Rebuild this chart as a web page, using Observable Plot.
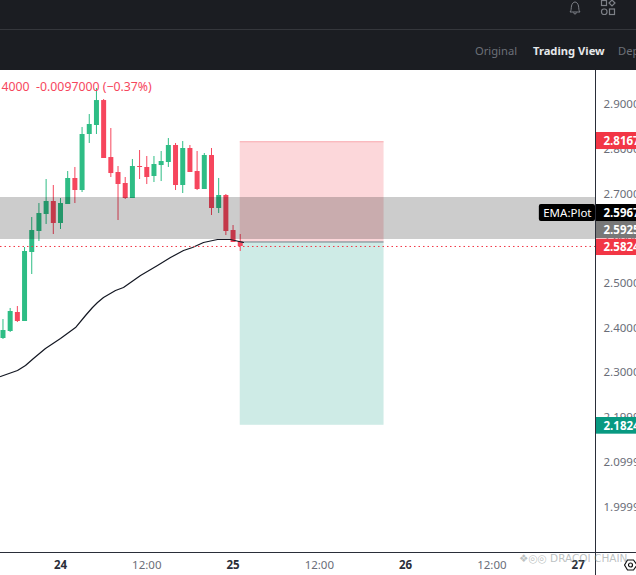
<!DOCTYPE html>
<html><head><meta charset="utf-8">
<script src="https://cdn.jsdelivr.net/npm/d3@7"></script>
<script src="https://cdn.jsdelivr.net/npm/@observablehq/plot@0.6"></script>
<style>
html,body{margin:0;padding:0;background:#fff;overflow:hidden;width:636px;height:575px;font-family:"Noto Sans",sans-serif}
#head{position:relative;height:70px;background:#1b1d22;overflow:hidden}
#head .sep{position:absolute;left:0;right:0;top:29px;height:1px;background:#35373c}
#head span{position:absolute;top:43px;font-size:11.2px;line-height:16px;white-space:nowrap}
#head svg{position:absolute}
#wrap{position:relative;height:505px}
#wrap svg{display:block}
#mark{position:absolute;left:519px;top:482px;font:10.5px "DejaVu Sans",sans-serif;letter-spacing:0;color:rgba(120,130,130,.5);white-space:nowrap}
#hex{position:absolute;left:624px;top:488px}
</style></head><body>
<div id="head"><div class="sep"></div>
<span style="left:475px;color:#6c7078">Original</span>
<span style="left:533px;color:#e6e8ea;font-weight:700">Trading View</span>
<span style="left:618px;color:#6c7078">Depth</span>
<svg style="left:568px;top:0" width="14" height="16" viewBox="0 0 14 16" fill="none" stroke="#7d8087" stroke-width="1"><path d="M2 12c1.5-1.5 1-3.5 1.5-6C4 3.500 5.500 2 7 2s3 1.500 3.500 4c.5 2.500 0 4.500 1.500 6z"/><path d="M5.500 12.500c0 2 3 2 3 0"/></svg>
<svg style="left:600px;top:0" width="18" height="16" viewBox="0 0 18 16" fill="none" stroke="#7d8087" stroke-width="1.2"><rect x="1.500" y=".5" width="5" height="5"/><path d="M12 0l3 3-3 3-3-3z"/><rect x="1.500" y="9" width="5.500" height="5.500" rx="2.500"/><rect x="9.500" y="9" width="5" height="5.500"/></svg>
</div>
<div id="wrap"><div id="chart"></div>
<div id="mark">❖◎◎ DRACOI CHAIN</div>
<svg id="hex" width="14" height="14" viewBox="0 0 14 14" fill="none" stroke="#111" stroke-width="1.200"><path d="M3.500 2h6l3.500 5-3.500 5h-6L0.500 7z"/><circle cx="6.500" cy="7" r="2"/></svg>
</div>
<script>
const hours  = [-8,-7,-6,-5,-4,-3,-2,-1,0,1,2,3,4,5,6,7,8,9,10,11,12,13,14,15,16,17,18,19,20,21,22,23,24,25];
const opens  = [2.3765,2.3922,2.4347,2.4146,2.5689,2.6159,2.6539,2.6830,2.6338,2.6763,2.7345,2.7076,2.8329,2.8530,2.9089,2.7814,2.7479,2.7233,2.6897,2.7613,2.7591,2.7389,2.7635,2.7703,2.8083,2.7188,2.8016,2.7501,2.7099,2.7859,2.6674,2.6964,2.6181,2.5935];
const closes = [2.3944,2.4369,2.4146,2.5712,2.6181,2.6562,2.6830,2.6338,2.6785,2.7345,2.7076,2.8329,2.8553,2.9089,2.7792,2.7456,2.7210,2.6897,2.7613,2.7591,2.7367,2.7658,2.7725,2.8083,2.7188,2.8016,2.7479,2.7099,2.7859,2.6674,2.6964,2.6159,2.5913,2.5824];
const highs  = [2.4190,2.4437,2.4481,2.5801,2.6472,2.6785,2.7322,2.7188,2.6897,2.7501,2.7591,2.8486,2.8776,2.9358,2.9112,2.8463,2.7613,2.7367,2.7770,2.7971,2.7837,2.7837,2.7949,2.8239,2.8128,2.8172,2.8083,2.7949,2.7904,2.8016,2.7345,2.6987,2.6293,2.6092];
const lows   = [2.3743,2.3900,2.4123,2.4146,2.5197,2.5935,2.6316,2.6092,2.6204,2.6763,2.6785,2.7031,2.8128,2.8329,2.7792,2.7367,2.6405,2.6875,2.6897,2.7322,2.7210,2.7255,2.7277,2.7591,2.7076,2.7009,2.7479,2.7076,2.7099,2.6517,2.6562,2.6069,2.5913,2.5712];

const emaHours  = [-8.34,-5.98,-4.87,-3.76,-2.09,0,2.09,3.48,4.45,5.15,5.98,7.65,8.76,11.13,13.49,15.3,17.11,18.36,19.89,21.84,23.64,25.45];
const emaPrices = [2.2915,2.3049,2.3161,2.3318,2.3542,2.3765,2.4011,2.4280,2.4459,2.4571,2.4683,2.4839,2.4906,2.5175,2.5398,2.5577,2.5734,2.5801,2.5913,2.5980,2.5980,2.5913];

const bandTop = 2.6920, bandBottom = 2.5980;
const stopPrice = 2.8167, entryPrice = 2.5925, targetPrice = 2.1824, lastPrice = 2.5824;
const boxStart = 25, boxEnd = 45;

const yTickValues = [2.9,2.8,2.7,2.6,2.5,2.4,2.3,2.2,2.1,2.0];
const yTickLabels = ["2.9000","2.8000","2.7000","2.6000","2.5000","2.4000","2.3000","2.1999","2.0999","1.9999"];
const xTickValues = [0,12,24,36,48,60,72];
const xTickLabels = ["24","12:00","25","12:00","26","12:00","27"];
const xTickBold   = [true,false,true,false,true,false,true];

const tagLabels = ["2.8167","2.5967","2.5925","2.5824","2.1824"];
const tagTops   = [2.8374,2.6763,2.6383,2.5987,2.1998];
const tagBottoms= [2.7993,2.6383,2.6002,2.5622,2.1625];
const tagColors = ["#f23645","#000000","#787878","#f23645","#089981"];

const legendText = "4000  -0.0097000 (\u22120.37%)";
const green = "#2ebd85", red = "#f6465d";

const candles = hours.map((h,i)=>({h,o:opens[i],c:closes[i],hi:highs[i],lo:lows[i],col:closes[i]>=opens[i]?green:red}));
const ema = emaHours.map((h,i)=>({h,p:emaPrices[i]}));
const tags = tagLabels.map((t,i)=>({t,top:tagTops[i],bot:tagBottoms[i],col:tagColors[i]}));
const yTicks = yTickValues.map((v,i)=>({v,t:yTickLabels[i]}));
const xTicks = xTickValues.map((v,i)=>({v,t:xTickLabels[i],b:xTickBold[i]}));

const xMin=-8.345, xMax=74.41, xEdge=80.11, yMax=2.9761, yMin=1.8978, yEdge=1.8463;
const font='"Noto Sans",sans-serif';

const plot = Plot.plot({
  width:636,height:505,marginLeft:0,marginRight:41,marginTop:0,marginBottom:23,
  style:{background:"#fff",fontFamily:font,overflow:"hidden"},
  x:{domain:[xMin,xMax],axis:null},
  y:{domain:[yMin,yMax],axis:null},
  marks:[
    Plot.rect([0],{x1:boxStart,x2:boxEnd,y1:entryPrice,y2:stopPrice,fill:"#f23645",fillOpacity:.2}),
    Plot.rect([0],{x1:boxStart,x2:boxEnd,y1:targetPrice,y2:entryPrice,fill:"#089981",fillOpacity:.2}),
    Plot.ruleY([stopPrice],{x1:boxStart,x2:boxEnd,stroke:"#f23645",strokeOpacity:.3}),
    Plot.ruleX(candles,{x:"h",y1:"lo",y2:"hi",stroke:"col",strokeWidth:1}),
    Plot.ruleX(candles,{x:"h",y1:"o",y2:"c",stroke:"col",strokeWidth:5}),
    Plot.rect([0],{x1:xMin,x2:xMax,y1:bandBottom,y2:bandTop,fill:"#000",fillOpacity:.2}),
    Plot.ruleY([entryPrice],{x1:boxStart,x2:boxEnd,stroke:"#787b86",strokeWidth:1}),
    Plot.line(ema,{x:"h",y:"p",stroke:"#131722",strokeWidth:1.2,curve:"linear"}),
    Plot.ruleY([lastPrice],{x1:xMin,x2:xMax,stroke:"#f23645",strokeWidth:1,strokeDasharray:"1.500 3"}),
    Plot.text([legendText],{frameAnchor:"top-left",dx:1,dy:17,text:d=>d,fill:red,fontSize:12.3,lineAnchor:"middle",textAnchor:"start"}),
    Plot.text(yTicks,{x:xMax,y:"v",text:"t",dx:8,textAnchor:"start",fill:"#6a6d78",fontSize:11.500}),
    Plot.rect(tags,{x1:xMax,x2:xEdge,y1:"bot",y2:"top",fill:"col"}),
    Plot.text(tags,{x:xMax,y:d=>(d.top+d.bot)/2,text:"t",dx:8,textAnchor:"start",fill:"#fff",fontSize:11.500,fontWeight:700}),
    Plot.rect([0],{x1:66.6,x2:xMax,y1:2.6763,y2:2.6383,fill:"#000",rx:2}),
    Plot.text(["EMA:Plot"],{x:xMax,y:2.6573,text:d=>d,dx:-4,textAnchor:"end",fill:"#fff",fontSize:11.500}),
    Plot.ruleX([xMax],{y1:yEdge,y2:yMax,stroke:"#2a2e39",strokeWidth:1}),
    Plot.ruleY([yMin],{x1:xMin,x2:xEdge,stroke:"#2a2e39",strokeWidth:1}),
    Plot.text(xTicks.filter(d=>d.b),{x:"v",frameAnchor:"bottom",dy:13,lineAnchor:"middle",text:"t",fill:"#2a2e39",fontSize:11.500,fontWeight:700}),
    Plot.text(xTicks.filter(d=>!d.b),{x:"v",frameAnchor:"bottom",dy:13,lineAnchor:"middle",text:"t",fill:"#6a6d78",fontSize:11.500})
  ]
});
document.getElementById("chart").appendChild(plot);
</script>
</body></html>
